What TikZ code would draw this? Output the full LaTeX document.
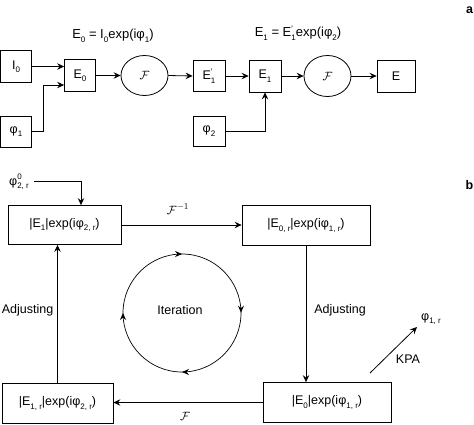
\documentclass[tikz,border=0pt]{standalone}
\usepackage{fontspec}
\setmainfont{Liberation Sans}
\usetikzlibrary{arrows.meta,shapes.geometric,decorations.markings}
\newcommand{\sbx}[1]{\raisebox{-0.28em}{\fontsize{8}{9}\selectfont #1}}
\newcommand{\spx}[1]{\raisebox{0.45em}{\fontsize{8}{9}\selectfont #1}}
\newcommand{\supsub}[2]{\rlap{\spx{#1}}\sbx{#2}}
\begin{document}
\begin{tikzpicture}[x=1pt,y=-1pt,
  font=\fontsize{12.5}{14}\selectfont,
  line width=0.8pt,
  box/.style={draw, rectangle, inner sep=0pt},
  oval/.style={draw, ellipse, inner sep=0pt},
  arr/.style={-{Stealth[length=7pt,width=6.5pt,inset=2.5pt]}},
  lbl/.style={inner sep=1pt},
  eqlbl/.style={inner sep=1pt, font=\fontsize{13}{15}\selectfont}]
\useasboundingbox (0,0) rectangle (474,424);

% ---------- panel a ----------
\node[box, minimum width=31, minimum height=32] (I0) at (16,66.5) {I\sbx{0}};
\node[box, minimum width=31, minimum height=31] (p1) at (16,131.5) {φ\sbx{1}};
\node[box, minimum width=31, minimum height=32] (E0) at (80,75.5) {E\sbx{0}};
\node[oval, minimum width=47, minimum height=40] (F1) at (144.5,75.5) {$\mathcal{F}$};
\node[box, minimum width=32, minimum height=31] (E1p) at (209,76) {E\supsub{′}{1}};
\node[box, minimum width=32, minimum height=30] (p2) at (209,131) {φ\sbx{2}};
\node[box, minimum width=32, minimum height=32] (E1) at (265,76) {E\sbx{1}};
\node[oval, minimum width=47, minimum height=41] (F2) at (327.5,76) {$\mathcal{F}$};
\node[box, minimum width=38, minimum height=32] (E) at (396,76) {E};

\draw[arr] (I0.east) -- (I0.east -| E0.west);
\coordinate (c1) at (43,85);
\draw[arr] (p1.east) -| (c1) -- (c1 -| E0.west);
\draw[arr] (E0.east) -- (F1.west);
\draw[arr] (F1.east) -- (E1p.west);
\draw[arr] (E1p.east) -- (E1.west);
\draw[arr] (E1.east) -- (F2.west);
\draw[arr] (F2.east) -- (E.west);
\draw[arr] (p2.east) -| (E1.south);

% equation labels above the boxes
\node[eqlbl] (eq1) at (113,36) {E\sbx{0} = I\sbx{0}exp(iφ\sbx{1})};
\node[eqlbl] (eq2) at (298,33) {E\sbx{1} = E\supsub{′}{1}exp(iφ\sbx{2})};

\node[font=\fontsize{12.5}{14}\selectfont\bfseries] (la) at (469.5,10) {a};

% ---------- panel b ----------
\node[lbl] (p0) at (19,182) {φ\supsub{0}{2, r}\hspace{1.2em}};
\node[box, minimum width=113, minimum height=39] (B1) at (64.5,225) {|E\sbx{1}|exp(iφ\sbx{2, r})};
\node[box, minimum width=128, minimum height=40] (B2) at (306,225.5) {|E\sbx{0, r}|exp(iφ\sbx{1, r})};
\node[box, minimum width=128, minimum height=40] (B3) at (327,402.5) {|E\sbx{0}|exp(iφ\sbx{1, r})};
\node[box, minimum width=111, minimum height=40] (B4) at (57.5,403.5) {|E\sbx{1, r}|exp(iφ\sbx{2, r})};

\coordinate (p0e) at (34,181);
\draw[arr] (p0e) -| ([xshift=16.5]B1.north);
\draw[arr] (B1.east) -- (B1.east -| B2.west);
\node[lbl] (Finv) at (178,209) {$\mathcal{F}^{-1}$};
\draw[arr] (B2.south) -- (B2.south |- B3.north);
\node[lbl] (adj1) at (340,310) {Adjusting};
\draw[arr] (B3.west) -- (B3.west -| B4.east);
\node[lbl] (Ff) at (185,416) {$\mathcal{F}$};
\draw[arr] (B4.north) -- (B4.north |- B1.south);
\node[lbl] (adj2) at (27.5,310) {Adjusting};

\node[lbl] (phr) at (431,319) {φ\sbx{1, r}};
\coordinate (k0) at (370,373);
\coordinate (k1) at (417,327);
\draw[arr] (k0) -- (k1);
\node[lbl] (kpa) at (408,359) {KPA};

\draw[line width=0.7pt, postaction={decorate}, decoration={markings,
  mark=at position 0.25 with {\arrow{Stealth[length=7pt,width=6pt,inset=2.5pt]}},
  mark=at position 0.5 with {\arrow{Stealth[length=7pt,width=6pt,inset=2.5pt]}},
  mark=at position 0.75 with {\arrow{Stealth[length=7pt,width=6pt,inset=2.5pt]}},
  mark=at position 0.999 with {\arrow{Stealth[length=7pt,width=6pt,inset=2.5pt]}}}]
  (182,313) circle (59);
\node[lbl] (it) at (180,310) {Iteration};

\node[font=\fontsize{12.5}{14}\selectfont\bfseries] (lb) at (469.5,185) {b};
\end{tikzpicture}
\end{document}
